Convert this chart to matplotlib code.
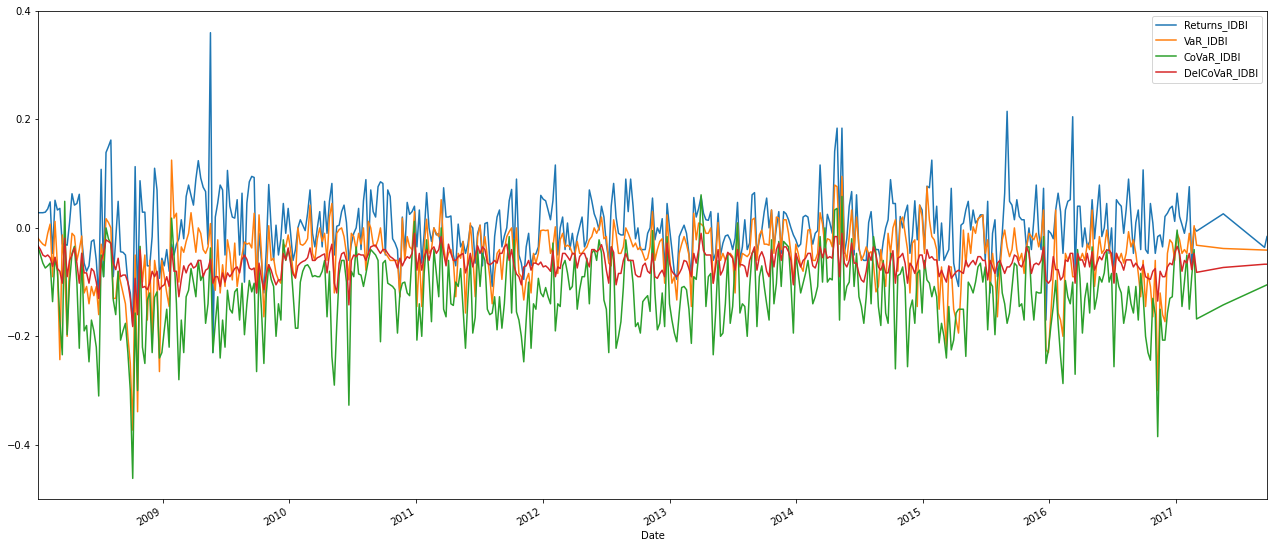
import pandas as pd
import matplotlib
matplotlib.use('Agg')
import matplotlib.pyplot as plt
import matplotlib.dates as mdates
from matplotlib.ticker import MultipleLocator

# weekly observations from 2008-01-08 to 2017-02-28, then three sparse ones
extra_dates = ['2017-05-16', '2017-09-12', '2017-09-19']

returns_idbi = [
    # 2008
    0.028, 0.028, 0.028, 0.029, 0.035, 0.048, -0.047, 0.051, 0.033, 0.036, -0.03, -0.03, -0.032,
    0.01, 0.063, 0.042, 0.045, 0.062, -0.02, -0.065, -0.08, -0.07, -0.025, -0.022, -0.06, -0.13,
    0.108, -0.09, 0.139, 0.15, 0.162, -0.09, -0.02, 0.049, -0.044, -0.045, -0.05, -0.1, -0.12,
    -0.18, 0.113, -0.15, 0.087, 0.029, 0.029, -0.07, -0.07, -0.016, 0.11, 0.07, -0.093, -0.056,
    # 2009
    -0.07, -0.04, -0.08, -0.03, -0.05, -0.03, -0.02, 0.015, -0.02, 0.058, 0.079, 0.06, 0.042,
    0.09, 0.124, 0.092, 0.075, 0.067, -0.03, 0.36, -0.23, 0.02, 0.046, 0.079, 0.07, -0.05,
    0.106, 0.04, 0.02, 0.018, 0.052, -0.05, 0.064, -0.1, 0.046, 0.085, 0.095, 0.093, -0.12,
    -0.01, -0.06, -0.12, -0.04, 0.08, 0.0, -0.06, 0.005, -0.05, -0.02, 0.045, -0.01, 0.036,
    # 2010
    -0.01, -0.06, -0.04, 0.0, 0.015, 0.005, -0.005, 0.027, 0.07, -0.01, -0.035, 0.0, 0.03,
    -0.035, 0.049, -0.01, 0.049, 0.082, -0.05, 0.003, 0.005, 0.03, 0.042, 0.01, -0.06, -0.03,
    -0.01, 0.0, 0.036, -0.04, 0.05, 0.089, -0.05, 0.07, 0.03, 0.02, 0.076, 0.085, 0.082,
    -0.05, 0.07, 0.058, -0.02, -0.028, -0.04, -0.127, 0.02, -0.045, 0.047, 0.025, 0.03, 0.04,
    # 2011
    -0.035, 0.033, -0.065, -0.01, 0.065, 0.0, -0.025, 0.0, -0.013, -0.01, -0.04, 0.074, 0.02,
    0.02, 0.022, -0.05, -0.07, 0.007, -0.035, -0.025, -0.047, -0.03, 0.005, 0.0, -0.065, -0.01,
    0.005, -0.07, 0.008, 0.01, -0.06, -0.108, -0.016, 0.02, 0.033, -0.035, -0.015, 0.0, 0.05,
    0.071, -0.05, 0.09, -0.05, -0.065, -0.095, -0.035, -0.01, -0.07, -0.05, -0.048, -0.035, 0.06,
    # 2012
    0.053, 0.05, 0.033, 0.015, 0.05, 0.116, -0.05, 0.0, 0.02, -0.04, 0.009, -0.04, -0.01,
    -0.045, -0.016, 0.002, 0.02, -0.035, -0.022, 0.07, 0.05, 0.026, 0.014, -0.004, 0.04, 0.02,
    -0.03, -0.06, 0.04, 0.082, 0.02, -0.01, -0.013, -0.013, 0.09, 0.03, 0.09, 0.04, -0.02,
    0.0, -0.04, -0.04, -0.04, -0.01, 0.0, 0.055, -0.022, 0.0, -0.01, 0.017, -0.083, 0.045,
    # 2013
    0.0, -0.04, -0.083, -0.095, -0.016, -0.005, 0.005, -0.01, -0.047, -0.09, 0.056, 0.02, 0.036,
    0.058, 0.027, 0.015, 0.014, 0.03, -0.06, -0.047, 0.027, -0.05, -0.028, -0.015, -0.013, -0.022,
    -0.04, -0.019, 0.047, -0.06, -0.035, 0.015, -0.04, -0.028, 0.061, 0.065, -0.047, -0.022, -0.004,
    0.03, 0.055, 0.0, 0.033, -0.035, 0.0, 0.03, -0.047, 0.03, 0.026, 0.015, 0.0, -0.013, -0.022,
    # 2014
    -0.035, -0.03, 0.02, 0.023, 0.02, -0.01, -0.03, -0.01, -0.005, 0.116, 0.025, -0.03, 0.025,
    0.01, -0.01, 0.141, 0.184, 0.0, 0.184, -0.047, -0.02, 0.04, 0.067, -0.05, 0.061, -0.04,
    -0.055, -0.06, -0.06, 0.01, 0.03, -0.03, -0.04, -0.04, -0.06, -0.025, 0.0, 0.015, 0.089,
    0.045, 0.045, -0.06, 0.021, 0.0, 0.027, 0.042, -0.047, -0.016, 0.05, -0.022, 0.042, 0.033,
    # 2015
    -0.04, 0.077, 0.074, 0.125, -0.01, 0.04, -0.06, 0.009, -0.06, -0.05, -0.04, 0.073, -0.065,
    -0.09, -0.108, 0.005, 0.009, 0.033, 0.049, -0.004, 0.033, 0.009, 0.015, 0.024, 0.024, -0.06,
    0.049, -0.12, -0.01, 0.015, -0.09, -0.06, -0.01, 0.064, 0.215, 0.049, 0.042, 0.015, 0.052,
    0.021, 0.015, 0.015, -0.04, 0.0, -0.04, 0.015, 0.079, -0.01, -0.04, 0.073, -0.17, -0.005,
    # 2016
    -0.01, -0.02, 0.033, 0.064, 0.03, -0.047, 0.033, 0.049, 0.052, 0.205, -0.08, 0.04, 0.04,
    -0.035, 0.0, -0.035, -0.025, 0.052, -0.02, 0.03, 0.079, -0.016, 0.0, 0.045, -0.047, 0.0,
    -0.1, 0.052, 0.045, 0.04, -0.01, 0.033, 0.09, 0.02, -0.047, 0.01, 0.033, -0.04, 0.107,
    -0.04, -0.047, 0.045, 0.009, -0.047, -0.016, -0.013, -0.035, 0.021, 0.027, 0.036, 0.04, 0.012,
    # 2017
    0.064, 0.021, 0.006, -0.01, 0.015, 0.076, -0.07, 0.0, -0.006,
    # sparse tail
    0.026, -0.036, -0.016,
]

var_idbi = [
    # 2008
    -0.019, -0.025, -0.03, -0.033, -0.01, 0.007, -0.09, 0.012, -0.07, -0.243, -0.013, -0.08, -0.2,
    -0.06, -0.01, -0.015, -0.06, -0.04, -0.015, -0.12, -0.108, -0.14, -0.108, -0.125, -0.108, -0.16,
    -0.03, -0.06, 0.017, 0.01, 0.0, -0.13, -0.13, -0.08, -0.1, -0.12, -0.14, -0.2, -0.25,
    -0.373, -0.05, -0.339, -0.035, -0.1, -0.05, -0.17, -0.06, -0.2, -0.06, -0.09, -0.265, -0.06,
    # 2009
    -0.09, -0.12, -0.145, 0.125, 0.018, 0.027, -0.1, -0.035, -0.045, -0.025, -0.01, 0.028, -0.01,
    -0.045, 0.0, -0.01, -0.04, -0.047, -0.035, 0.008, -0.09, -0.115, -0.022, -0.12, -0.068, -0.108,
    -0.022, -0.047, -0.096, -0.028, -0.108, -0.078, -0.05, -0.026, -0.03, -0.028, -0.037, 0.027, -0.108,
    0.024, -0.047, -0.164, -0.09, 0.004, -0.06, -0.056, -0.084, -0.096, -0.102, -0.03, -0.035, -0.013,
    # 2010
    -0.04, -0.08, -0.093, 0.0, -0.03, -0.032, -0.028, -0.02, 0.042, -0.047, -0.06, -0.02, 0.0,
    -0.025, -0.01, -0.06, 0.02, 0.045, -0.12, -0.01, -0.003, 0.0, -0.016, -0.047, -0.096, -0.01,
    -0.016, -0.04, -0.01, -0.03, 0.0, -0.078, 0.012, 0.0, -0.03, -0.035, -0.022, 0.0, -0.04,
    -0.047, -0.053, -0.06, -0.06, -0.06, -0.06, -0.127, 0.018, -0.06, -0.016, -0.035, -0.04, 0.03,
    # 2011
    -0.145, -0.05, -0.145, -0.035, 0.016, -0.047, -0.04, 0.0, -0.01, -0.016, 0.052, -0.035, -0.065,
    -0.047, -0.04, -0.06, -0.127, -0.047, -0.056, -0.025, -0.157, -0.047, 0.009, -0.05, -0.127, -0.016,
    0.005, -0.047, -0.016, -0.053, -0.09, -0.14, -0.084, -0.047, -0.04, -0.095, -0.04, -0.016, -0.007,
    0.0, -0.06, 0.0, -0.084, -0.09, -0.133, -0.096, -0.084, -0.12, -0.047, -0.065, -0.047, -0.005,
    # 2012
    -0.004, -0.005, -0.004, -0.047, -0.035, 0.002, -0.084, -0.022, -0.01, -0.035, -0.032, -0.035, -0.047,
    -0.05, -0.025, -0.047, -0.047, -0.04, -0.035, -0.022, -0.016, 0.0, -0.01, 0.0, 0.02, -0.02,
    -0.016, -0.065, -0.07, 0.015, -0.01, -0.047, -0.047, -0.035, 0.0, -0.01, -0.022, -0.035, -0.028,
    -0.04, -0.035, -0.047, -0.06, -0.056, -0.035, 0.03, -0.06, -0.04, -0.025, -0.02, -0.102, 0.024,
    # 2013
    -0.05, -0.102, -0.09, -0.133, -0.047, -0.03, -0.016, -0.03, -0.05, -0.145, 0.027, -0.022, 0.009,
    0.007, 0.003, -0.01, -0.01, 0.0, -0.102, -0.06, 0.01, -0.06, -0.047, -0.06, -0.05, -0.047,
    -0.053, -0.12, 0.009, -0.072, -0.047, -0.05, -0.053, -0.047, 0.015, 0.018, -0.06, -0.013, -0.004,
    -0.03, -0.03, -0.032, 0.033, -0.047, 0.02, 0.018, -0.04, 0.015, 0.015, -0.01, -0.047, -0.102, -0.03,
    # 2014
    -0.047, -0.07, -0.08, -0.047, -0.004, -0.003, -0.06, -0.06, -0.047, 0.028, 0.007, -0.035, -0.02,
    -0.022, -0.035, 0.079, 0.076, -0.03, 0.095, -0.04, -0.06, -0.016, 0.033, -0.04, 0.02, -0.035,
    -0.06, -0.05, -0.035, -0.047, -0.044, -0.068, -0.118, -0.108, -0.04, -0.083, -0.108, -0.01, -0.047,
    0.0, 0.015, -0.08, 0.012, 0.02, -0.01, -0.04, -0.12, -0.028, -0.022, -0.145, 0.042, 0.021,
    # 2015
    -0.047, 0.076, 0.015, -0.016, -0.022, -0.04, -0.15, -0.072, -0.157, -0.22, -0.072, -0.072, -0.15,
    -0.17, -0.194, -0.114, -0.004, -0.07, -0.01, -0.047, 0.002, -0.01, 0.017, 0.02, 0.024, -0.047,
    -0.022, -0.108, -0.047, -0.083, -0.164, -0.083, -0.022, -0.004, -0.035, -0.053, -0.04, 0.0, -0.04,
    -0.06, -0.047, -0.084, -0.035, -0.01, -0.016, -0.022, -0.01, -0.035, -0.016, 0.033, -0.225, -0.23,
    # 2016
    -0.16, -0.084, 0.033, -0.157, -0.17, -0.2, -0.047, -0.06, -0.05, -0.09, -0.09, -0.053, -0.06,
    -0.047, -0.06, -0.03, -0.04, 0.033, -0.108, -0.06, -0.016, -0.047, -0.04, -0.004, -0.035, -0.06,
    -0.084, -0.047, -0.06, -0.047, -0.065, -0.047, -0.007, -0.035, -0.022, -0.047, -0.084, -0.127, -0.06,
    -0.145, -0.084, -0.108, -0.164, -0.06, -0.3, -0.12, -0.16, -0.173, -0.047, -0.022, -0.028, -0.06,
    # 2017
    -0.01, -0.022, -0.047, -0.04, -0.047, -0.01, -0.047, 0.004, -0.032,
    # sparse tail
    -0.038, -0.041, -0.041,
]

covar_idbi = [
    # 2008
    -0.034, -0.05, -0.065, -0.074, -0.07, -0.065, -0.136, -0.055, -0.08, -0.17, -0.234, 0.049, -0.197,
    -0.1, -0.047, -0.034, -0.1, -0.222, -0.047, -0.19, -0.18, -0.247, -0.17, -0.19, -0.22, -0.31,
    -0.05, -0.09, 0.0, -0.02, -0.03, -0.133, -0.16, -0.08, -0.207, -0.19, -0.176, -0.23, -0.3,
    -0.462, -0.157, -0.3, -0.034, -0.22, -0.25, -0.133, -0.12, -0.23, -0.128, -0.118, -0.24, -0.23,
    # 2009
    -0.188, -0.15, -0.22, 0.018, -0.05, -0.14, -0.28, -0.17, -0.23, -0.127, -0.115, -0.075, -0.1,
    -0.127, -0.06, -0.097, -0.085, -0.176, -0.14, -0.037, -0.23, -0.175, -0.127, -0.24, -0.17, -0.22,
    -0.115, -0.15, -0.157, -0.118, -0.112, -0.17, -0.102, -0.197, -0.14, -0.097, -0.118, -0.102, -0.265,
    -0.078, -0.15, -0.25, -0.12, -0.068, -0.095, -0.108, -0.2, -0.14, -0.17, -0.022, -0.06, -0.04,
    # 2010
    -0.06, -0.12, -0.185, -0.185, -0.1, -0.08, -0.07, -0.068, -0.075, -0.09, -0.088, -0.09, -0.09,
    -0.08, -0.06, -0.164, -0.08, -0.237, -0.29, -0.18, -0.085, -0.06, -0.06, -0.1, -0.327, -0.08,
    -0.09, -0.035, -0.085, -0.087, -0.108, -0.085, -0.06, -0.04, -0.045, -0.05, -0.06, -0.21, -0.065,
    -0.06, -0.102, -0.105, -0.108, -0.114, -0.194, -0.12, -0.102, -0.1, -0.12, -0.125, -0.05, 0.012,
    # 2011
    -0.207, -0.14, -0.2, -0.083, -0.022, -0.09, -0.173, -0.04, -0.083, -0.127, 0.0, -0.15, -0.164,
    -0.06, -0.14, -0.143, -0.1, -0.108, -0.075, -0.15, -0.222, -0.13, -0.053, -0.194, -0.165, -0.04,
    -0.108, -0.047, -0.06, -0.15, -0.16, -0.157, -0.127, -0.188, -0.127, -0.185, -0.14, -0.065, -0.016,
    -0.157, -0.022, -0.155, -0.17, -0.2, -0.247, -0.17, -0.1, -0.222, -0.14, -0.15, -0.093, -0.12,
    # 2012
    -0.127, -0.11, -0.127, -0.14, -0.028, -0.19, -0.14, -0.145, -0.07, -0.06, -0.083, -0.114, -0.108,
    -0.05, -0.15, -0.114, -0.09, -0.09, -0.056, -0.14, -0.047, -0.04, -0.06, -0.022, -0.047, -0.133,
    -0.15, -0.23, -0.035, -0.06, -0.222, -0.2, -0.173, -0.11, -0.022, -0.06, -0.06, -0.102, -0.182,
    -0.175, -0.194, -0.136, -0.13, -0.125, -0.154, -0.005, -0.12, -0.188, -0.176, -0.12, -0.182, -0.016,
    # 2013
    -0.14, -0.17, -0.194, -0.21, -0.157, -0.11, -0.108, -0.114, -0.15, -0.213, -0.09, -0.095, -0.05,
    0.061, 0.0, -0.145, -0.09, -0.084, -0.234, -0.157, -0.06, -0.2, -0.194, -0.14, -0.05, -0.176,
    -0.145, -0.06, 0.009, -0.157, -0.14, -0.145, -0.2, -0.108, -0.047, -0.04, -0.182, -0.09, -0.07,
    -0.108, -0.14, -0.17, -0.022, -0.14, -0.103, -0.025, -0.108, -0.025, -0.03, -0.035, -0.103, -0.194, -0.047,
    # 2014
    -0.085, -0.12, -0.102, -0.084, -0.06, -0.097, -0.14, -0.127, -0.108, -0.016, -0.1, 0.0, -0.1,
    -0.093, -0.096, 0.033, 0.036, -0.17, 0.058, -0.133, -0.108, -0.1, -0.02, -0.108, -0.047, -0.127,
    -0.145, -0.176, -0.127, -0.047, -0.14, -0.016, -0.047, -0.145, -0.18, -0.06, -0.157, -0.176, -0.047,
    -0.05, -0.26, -0.088, -0.085, -0.072, -0.11, -0.256, -0.15, -0.133, -0.176, -0.084, -0.078, -0.157,
    # 2015
    -0.06, -0.096, -0.102, -0.127, -0.108, -0.127, -0.212, -0.176, -0.2, -0.24, -0.145, -0.225, -0.207,
    -0.157, -0.15, -0.15, -0.15, -0.237, -0.1, -0.108, -0.12, -0.1, -0.072, -0.065, -0.1, -0.072,
    -0.188, -0.1, -0.108, -0.197, -0.1, -0.06, -0.12, -0.14, -0.176, -0.157, -0.11, -0.065, -0.07,
    -0.145, -0.14, -0.17, -0.035, -0.035, -0.12, -0.17, -0.118, -0.12, -0.12, -0.016, -0.25, -0.225,
    # 2016
    -0.182, -0.145, -0.097, -0.176, -0.237, -0.287, -0.097, -0.127, -0.14, -0.1, -0.27, -0.04, -0.093,
    -0.194, -0.13, -0.102, -0.157, -0.035, -0.15, -0.127, -0.09, -0.1, -0.083, -0.04, -0.1, -0.084,
    -0.256, -0.084, -0.108, -0.12, -0.176, -0.15, -0.108, -0.14, -0.157, -0.108, -0.17, -0.084, -0.125,
    -0.2, -0.23, -0.244, -0.13, -0.16, -0.385, -0.15, -0.207, -0.207, -0.157, -0.13, -0.127, -0.047,
    # 2017
    -0.004, -0.053, -0.145, -0.1, -0.05, -0.15, -0.09, -0.04, -0.168,
    # sparse tail
    -0.142, -0.107, -0.105,
]

delcovar_idbi = [
    # 2008
    -0.033, -0.04, -0.05, -0.053, -0.05, -0.055, -0.071, -0.054, -0.075, -0.08, -0.102, -0.019, -0.09,
    -0.06, -0.05, -0.037, -0.065, -0.102, -0.047, -0.083, -0.083, -0.102, -0.075, -0.08, -0.1, -0.13,
    -0.06, -0.047, -0.022, -0.025, -0.028, -0.065, -0.077, -0.056, -0.09, -0.087, -0.087, -0.1, -0.13,
    -0.182, -0.093, -0.16, -0.04, -0.11, -0.108, -0.114, -0.102, -0.08, -0.09, -0.08, -0.114, -0.108,
    # 2009
    -0.105, -0.09, -0.108, -0.037, -0.08, -0.08, -0.127, -0.095, -0.07, -0.083, -0.07, -0.065, -0.074,
    -0.071, -0.06, -0.06, -0.09, -0.078, -0.075, -0.058, -0.102, -0.09, -0.09, -0.108, -0.083, -0.1,
    -0.083, -0.09, -0.083, -0.075, -0.072, -0.083, -0.058, -0.05, -0.058, -0.074, -0.077, -0.074, -0.12,
    -0.065, -0.093, -0.114, -0.085, -0.068, -0.078, -0.093, -0.105, -0.096, -0.096, -0.047, -0.059, -0.037,
    # 2010
    -0.065, -0.085, -0.092, -0.07, -0.065, -0.062, -0.06, -0.055, -0.037, -0.06, -0.06, -0.055, -0.053,
    -0.05, -0.048, -0.083, -0.047, -0.03, -0.102, -0.12, -0.065, -0.048, -0.045, -0.06, -0.142, -0.06,
    -0.05, -0.053, -0.048, -0.05, -0.05, -0.06, -0.047, -0.035, -0.033, -0.032, -0.04, -0.047, -0.04,
    -0.04, -0.047, -0.053, -0.056, -0.06, -0.074, -0.056, -0.07, -0.06, -0.053, -0.056, -0.047, -0.01,
    # 2011
    -0.078, -0.047, -0.078, -0.053, -0.04, -0.06, -0.04, -0.035, -0.047, -0.04, -0.016, -0.047, -0.07,
    -0.03, -0.047, -0.06, -0.06, -0.053, -0.05, -0.047, -0.083, -0.068, -0.047, -0.072, -0.053, -0.033,
    -0.047, -0.035, -0.04, -0.065, -0.068, -0.065, -0.06, -0.065, -0.047, -0.047, -0.035, -0.03, -0.06,
    -0.04, -0.07, -0.085, -0.09, -0.105, -0.072, -0.07, -0.06, -0.078, -0.065, -0.065, -0.068, -0.063,
    # 2012
    -0.072, -0.07, -0.074, -0.08, -0.042, -0.09, -0.072, -0.075, -0.047, -0.047, -0.053, -0.06, -0.047,
    -0.047, -0.074, -0.053, -0.047, -0.047, -0.06, -0.072, -0.04, -0.04, -0.044, -0.04, -0.031, -0.047,
    -0.078, -0.102, -0.035, -0.045, -0.105, -0.084, -0.084, -0.06, -0.047, -0.06, -0.06, -0.06, -0.086,
    -0.09, -0.09, -0.07, -0.065, -0.08, -0.084, -0.047, -0.09, -0.093, -0.084, -0.078, -0.09, -0.028,
    # 2013
    -0.065, -0.08, -0.086, -0.09, -0.084, -0.075, -0.06, -0.062, -0.075, -0.09, -0.047, -0.065, -0.04,
    -0.01, -0.042, -0.05, -0.05, -0.05, -0.102, -0.072, -0.04, -0.087, -0.078, -0.06, -0.045, -0.05,
    -0.056, -0.078, -0.04, -0.068, -0.068, -0.071, -0.09, -0.06, -0.047, -0.035, -0.078, -0.053, -0.044,
    -0.056, -0.08, -0.09, -0.04, -0.072, -0.04, -0.028, -0.06, -0.035, -0.035, -0.044, -0.06, -0.105, -0.047,
    # 2014
    -0.06, -0.072, -0.06, -0.056, -0.047, -0.047, -0.07, -0.074, -0.06, -0.035, -0.055, -0.038, -0.056,
    -0.053, -0.056, -0.016, -0.016, -0.09, -0.01, -0.065, -0.072, -0.06, -0.028, -0.065, -0.065, -0.084,
    -0.096, -0.1, -0.08, -0.047, -0.06, -0.035, -0.05, -0.072, -0.078, -0.065, -0.083, -0.083, -0.06,
    -0.042, -0.102, -0.056, -0.053, -0.047, -0.065, -0.102, -0.065, -0.072, -0.084, -0.065, -0.05, -0.05,
    # 2015
    -0.075, -0.04, -0.056, -0.053, -0.059, -0.059, -0.09, -0.078, -0.09, -0.1, -0.07, -0.093, -0.087,
    -0.081, -0.078, -0.081, -0.084, -0.06, -0.072, -0.065, -0.06, -0.068, -0.053, -0.053, -0.06, -0.06,
    -0.096, -0.06, -0.072, -0.084, -0.065, -0.06, -0.072, -0.084, -0.072, -0.072, -0.065, -0.05, -0.053,
    -0.068, -0.072, -0.06, -0.035, -0.047, -0.084, -0.068, -0.065, -0.068, -0.06, -0.035, -0.096, -0.102,
    # 2016
    -0.096, -0.053, -0.077, -0.077, -0.096, -0.09, -0.059, -0.062, -0.047, -0.047, -0.102, -0.047, -0.059,
    -0.059, -0.072, -0.047, -0.072, -0.044, -0.078, -0.065, -0.053, -0.059, -0.047, -0.041, -0.041, -0.047,
    -0.102, -0.047, -0.059, -0.065, -0.078, -0.059, -0.059, -0.059, -0.072, -0.065, -0.072, -0.078, -0.068,
    -0.09, -0.093, -0.095, -0.08, -0.075, -0.135, -0.08, -0.09, -0.09, -0.072, -0.065, -0.068, -0.047,
    # 2017
    -0.034, -0.047, -0.08, -0.06, -0.065, -0.047, -0.077, -0.047, -0.082,
    # sparse tail
    -0.073, -0.067, -0.067,
]

n_weekly = len(returns_idbi) - len(extra_dates)
dates = pd.date_range('2008-01-08', periods=n_weekly, freq='7D').append(pd.DatetimeIndex(extra_dates))

df = pd.DataFrame({
    'Returns_IDBI': returns_idbi,
    'VaR_IDBI': var_idbi,
    'CoVaR_IDBI': covar_idbi,
    'DelCoVaR_IDBI': delcovar_idbi,
}, index=dates)
df.index.name = 'Date'

plt.rcParams['font.size'] = 10
fig = plt.figure(figsize=(1276 / 72, 550 / 72), dpi=72)
ax = fig.add_axes([38 / 1276, 51 / 550, 1229 / 1276, 488 / 550])
for col in df.columns:
    ax.plot(df.index, df[col], label=col, lw=1.5)

ax.set_xlim(df.index[0], df.index[-1])
ax.set_ylim(-0.5, 0.4)
ax.yaxis.set_major_locator(MultipleLocator(0.2))
ax.xaxis.set_major_locator(mdates.YearLocator())
ax.xaxis.set_major_formatter(mdates.DateFormatter('%Y'))
plt.setp(ax.get_xticklabels(), rotation=30, ha='right')
ax.set_xlabel('Date')
ax.legend(loc='upper right')

fig.savefig('out.png', dpi=72)
